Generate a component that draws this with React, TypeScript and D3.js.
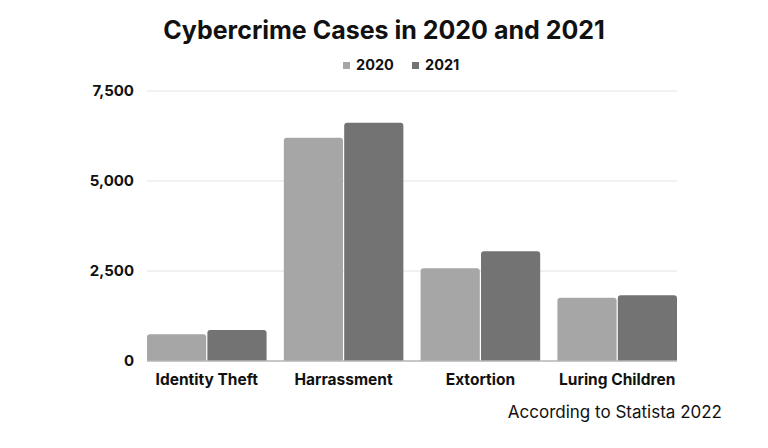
import * as d3 from "d3";
import React, { useEffect, useRef } from "react";

const categories = ["Identity Theft", "Harrassment", "Extortion", "Luring Children"];
const seriesNames = ["2020", "2021"];
const values2020 = [740, 6200, 2575, 1760];
const values2021 = [860, 6620, 3050, 1825];
const yTicks = [0, 2500, 5000, 7500];

const width = 768;
const height = 448;
const margin = { top: 91, right: 91, bottom: 87, left: 147 };
const colors = ["#a6a6a6", "#737373"];
const font = "Inter, 'Open Sans', 'DejaVu Sans', sans-serif";

// path for a bar with rounded top corners
function topRounded(x: number, y: number, w: number, h: number, r: number) {
    r = Math.min(r, w / 2, h);
    return `M${x},${y + h}V${y + r}Q${x},${y} ${x + r},${y}H${x + w - r}Q${x + w},${y} ${x + w},${y + r}V${y + h}Z`;
}

const App: React.FC = () => {
    const ref = useRef<SVGSVGElement>(null);

    useEffect(() => {
        if (!ref.current) return;
        const svg = d3.select(ref.current);
        svg.selectAll("*").remove();

        const innerW = width - margin.left - margin.right;
        const innerH = height - margin.top - margin.bottom;

        const x = d3.scaleBand().domain(categories).range([0, innerW]).paddingInner(0.126).paddingOuter(0);
        const xs = d3.scaleBand().domain(seriesNames).range([0, x.bandwidth()]).paddingInner(0.02);
        const y = d3.scaleLinear().domain([0, 7500]).range([innerH, 0]);

        svg.append("rect").attr("width", width).attr("height", height).attr("fill", "#ffffff");

        svg.append("text")
            .attr("x", 384)
            .attr("y", 39)
            .attr("text-anchor", "middle")
            .style("font-family", font)
            .style("font-weight", 700)
            .style("font-size", "25px")
            .attr("fill", "#111")
            .text("Cybercrime Cases in 2020 and 2021");

        // legend
        const legend = svg.append("g").attr("transform", "translate(343, 70)");
        const legendX = [0, 69];
        seriesNames.forEach((s, i) => {
            const g = legend.append("g").attr("transform", `translate(${legendX[i]},0)`);
            g.append("rect").attr("x", 0).attr("y", -8).attr("width", 7).attr("height", 7).attr("fill", colors[i]);
            g.append("text")
                .attr("x", 13)
                .attr("y", 0)
                .style("font-family", font)
                .style("font-weight", 700)
                .style("font-size", "14.5px")
                .attr("fill", "#111")
                .text(s);
        });

        const plot = svg.append("g").attr("transform", `translate(${margin.left},${margin.top})`);

        plot.selectAll("line.grid")
            .data(yTicks.slice(1))
            .join("line")
            .attr("class", "grid")
            .attr("x1", 0)
            .attr("x2", innerW)
            .attr("y1", (d) => y(d))
            .attr("y2", (d) => y(d))
            .attr("stroke", "#e3e3e3")
            .attr("stroke-width", 1);

        plot.selectAll("text.ytick")
            .data(yTicks)
            .join("text")
            .attr("class", "ytick")
            .attr("x", -13)
            .attr("y", (d) => y(d))
            .attr("dy", "0.35em")
            .attr("text-anchor", "end")
            .style("font-family", font)
            .style("font-weight", 700)
            .style("font-size", "15px")
            .attr("fill", "#111")
            .text((d) => d3.format(",")(d));

        const series = [values2020, values2021];
        categories.forEach((c, ci) => {
            seriesNames.forEach((s, si) => {
                const v = series[si][ci];
                const bx = (x(c) || 0) + (xs(s) || 0);
                plot.append("path")
                    .attr("d", topRounded(bx, y(v), xs.bandwidth(), innerH - y(v), 3))
                    .attr("fill", colors[si]);
            });
        });

        plot.append("line")
            .attr("x1", 0)
            .attr("x2", innerW)
            .attr("y1", innerH)
            .attr("y2", innerH)
            .attr("stroke", "#b5b5b5")
            .attr("stroke-width", 1.5);

        plot.selectAll("text.xtick")
            .data(categories)
            .join("text")
            .attr("class", "xtick")
            .attr("x", (d) => (x(d) || 0) + x.bandwidth() / 2)
            .attr("y", innerH + 24)
            .attr("text-anchor", "middle")
            .style("font-family", font)
            .style("font-weight", 700)
            .style("font-size", "15.5px")
            .attr("fill", "#111")
            .text((d) => d);

        svg.append("text")
            .attr("x", 722)
            .attr("y", 418)
            .attr("text-anchor", "end")
            .style("font-family", font)
            .style("font-size", "17px")
            .attr("fill", "#111")
            .text("According to Statista 2022");
    }, []);

    return <svg ref={ref} width={width} height={height} style={{ display: "block", position: "absolute", left: 0, top: 0 }} />;
};

export default App;
